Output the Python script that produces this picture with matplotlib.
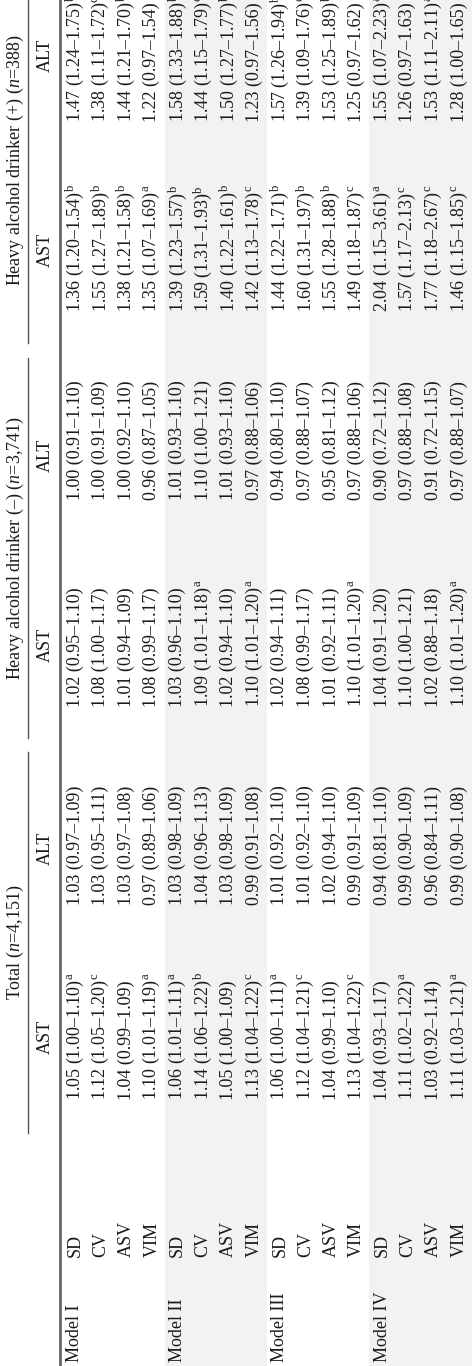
import matplotlib
matplotlib.use("Agg")
import matplotlib.pyplot as plt

plt.rcParams['font.family'] = ['Liberation Serif', 'DejaVu Serif']
plt.rcParams['mathtext.fontset'] = 'custom'
plt.rcParams['mathtext.rm'] = 'Liberation Serif'
plt.rcParams['mathtext.it'] = 'Liberation Serif:italic'

models = ["Model I", "Model II", "Model III", "Model IV"]
metrics = ["SD", "CV", "ASV", "VIM"]
group_headers = [r"Total ($\it{n}$=4,151)",
                 r"Heavy alcohol drinker (–) ($\it{n}$=3,741)",
                 r"Heavy alcohol drinker (+) ($\it{n}$=388)"]
sub_headers = ["AST", "ALT"]

total_ast = ["1.05 (1.00–1.10)|a", "1.12 (1.05–1.20)|c", "1.04 (0.99–1.09)|", "1.10 (1.01–1.19)|a",
             "1.06 (1.01–1.11)|a", "1.14 (1.06–1.22)|b", "1.05 (1.00–1.09)|", "1.13 (1.04–1.22)|c",
             "1.06 (1.00–1.11)|a", "1.12 (1.04–1.21)|c", "1.04 (0.99–1.10)|", "1.13 (1.04–1.22)|c",
             "1.04 (0.93–1.17)|", "1.11 (1.02–1.22)|a", "1.03 (0.92–1.14)|", "1.11 (1.03–1.21)|a"]
total_alt = ["1.03 (0.97–1.09)|", "1.03 (0.95–1.11)|", "1.03 (0.97–1.08)|", "0.97 (0.89–1.06)|",
             "1.03 (0.98–1.09)|", "1.04 (0.96–1.13)|", "1.03 (0.98–1.09)|", "0.99 (0.91–1.08)|",
             "1.01 (0.92–1.10)|", "1.01 (0.92–1.10)|", "1.02 (0.94–1.10)|", "0.99 (0.91–1.09)|",
             "0.94 (0.81–1.10)|", "0.99 (0.90–1.09)|", "0.96 (0.84–1.11)|", "0.99 (0.90–1.08)|"]
neg_ast = ["1.02 (0.95–1.10)|", "1.08 (1.00–1.17)|", "1.01 (0.94–1.09)|", "1.08 (0.99–1.17)|",
           "1.03 (0.96–1.10)|", "1.09 (1.01–1.18)|a", "1.02 (0.94–1.10)|", "1.10 (1.01–1.20)|a",
           "1.02 (0.94–1.11)|", "1.08 (0.99–1.17)|", "1.01 (0.92–1.11)|", "1.10 (1.01–1.20)|a",
           "1.04 (0.91–1.20)|", "1.10 (1.00–1.21)|", "1.02 (0.88–1.18)|", "1.10 (1.01–1.20)|a"]
neg_alt = ["1.00 (0.91–1.10)|", "1.00 (0.91–1.09)|", "1.00 (0.92–1.10)|", "0.96 (0.87–1.05)|",
           "1.01 (0.93–1.10)|", "1.10 (1.00–1.21)|", "1.01 (0.93–1.10)|", "0.97 (0.88–1.06)|",
           "0.94 (0.80–1.10)|", "0.97 (0.88–1.07)|", "0.95 (0.81–1.12)|", "0.97 (0.88–1.06)|",
           "0.90 (0.72–1.12)|", "0.97 (0.88–1.08)|", "0.91 (0.72–1.15)|", "0.97 (0.88–1.07)|"]
pos_ast = ["1.36 (1.20–1.54)|b", "1.55 (1.27–1.89)|b", "1.38 (1.21–1.58)|b", "1.35 (1.07–1.69)|a",
           "1.39 (1.23–1.57)|b", "1.59 (1.31–1.93)|b", "1.40 (1.22–1.61)|b", "1.42 (1.13–1.78)|c",
           "1.44 (1.22–1.71)|b", "1.60 (1.31–1.97)|b", "1.55 (1.28–1.88)|b", "1.49 (1.18–1.87)|c",
           "2.04 (1.15–3.61)|a", "1.57 (1.17–2.13)|c", "1.77 (1.18–2.67)|c", "1.46 (1.15–1.85)|c"]
pos_alt = ["1.47 (1.24–1.75)|b", "1.38 (1.11–1.72)|c", "1.44 (1.21–1.70)|b", "1.22 (0.97–1.54)|",
           "1.58 (1.33–1.88)|b", "1.44 (1.15–1.79)|c", "1.50 (1.27–1.77)|b", "1.23 (0.97–1.56)|",
           "1.57 (1.26–1.94)|b", "1.39 (1.09–1.76)|c", "1.53 (1.25–1.89)|b", "1.25 (0.97–1.62)|",
           "1.55 (1.07–2.23)|a", "1.26 (0.97–1.63)|", "1.53 (1.11–2.11)|a", "1.28 (1.00–1.65)|"]

columns = [total_ast, total_alt, neg_ast, neg_alt, pos_ast, pos_alt]

W, H = 474, 1366
fig = plt.figure(figsize=(W / 100, H / 100), dpi=100)
ax = fig.add_axes([0, 0, 1, 1])
ax.set_xlim(0, W)
ax.set_ylim(H, 0)
ax.axis('off')

row0, drow = 75, 25.6
col_start = [1100, 905, 707, 500, 312, 122]
sub_center = [1037, 848, 645, 455, 250, 55]
grp_center = [942, 548, 160]
grp_span = [(752, 1133), (358, 738), (0, 343)]
model_y, metric_y = 1362, 1257
fs = 13

for m in (1, 3):
    x0 = row0 + (m * 4 - 0.5) * drow
    ax.axvspan(x0, min(x0 + 4 * drow, W), color='#f2f2f2', zorder=0, lw=0)

ax.axvline(60, color='#666666', lw=2, zorder=2)
for (a, b) in grp_span:
    ax.plot([28, 28], [a, b], color='#555555', lw=1)

txt = dict(rotation=90, rotation_mode='anchor', fontsize=fs, color='#1a1a1a')
for g, c in zip(group_headers, grp_center):
    ax.text(15, c, g, ha='center', va='center', **txt)
for k, c in enumerate(sub_center):
    ax.text(45, c, sub_headers[k % 2], ha='center', va='center', **txt)

for i in range(16):
    x = row0 + i * drow
    if i % 4 == 0:
        ax.text(x, model_y, models[i // 4], ha='left', va='center', **txt)
    ax.text(x, metric_y, metrics[i % 4], ha='left', va='center', **txt)
    for col, y0 in zip(columns, col_start):
        val, sig = col[i].split('|')
        s = val + (r"$^{\mathrm{%s}}$" % sig if sig else "")
        ax.text(x, y0, s, ha='left', va='center', **txt)

fig.savefig("out.png", dpi=100, facecolor='white')
